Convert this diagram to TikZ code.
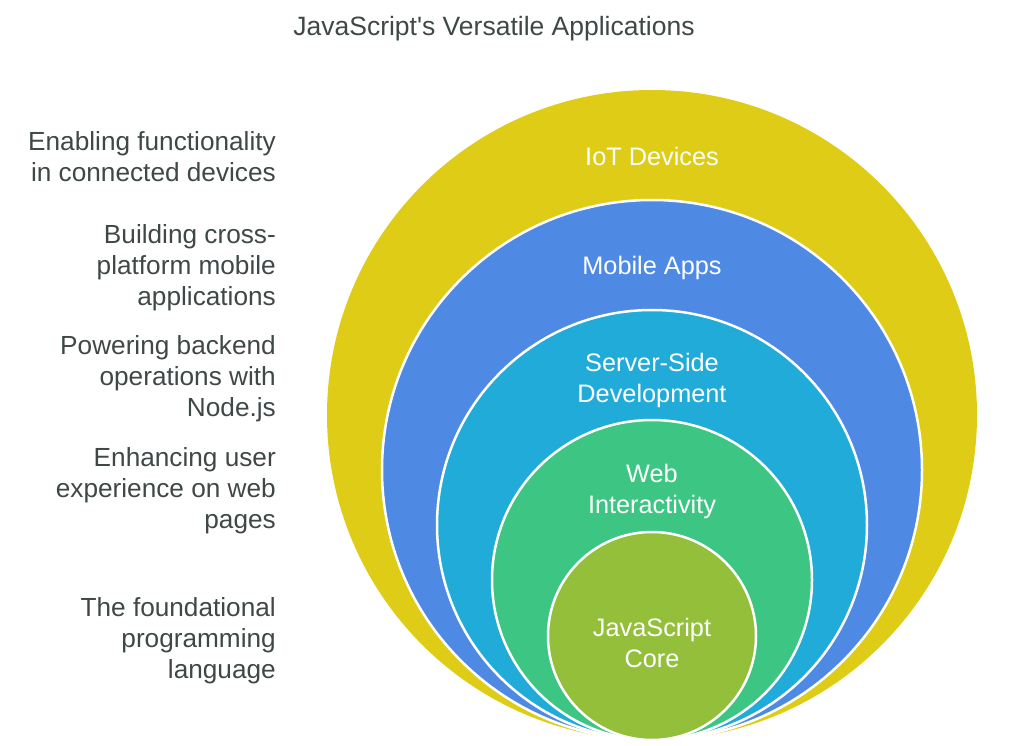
\documentclass[tikz,border=0pt]{standalone}
\usepackage{fontspec}
\setmainfont{Liberation Sans}
\definecolor{cyel}{HTML}{DFCC17}
\definecolor{cblue}{HTML}{4E89E4}
\definecolor{ccyan}{HTML}{21ABD9}
\definecolor{cgreen}{HTML}{3DC583}
\definecolor{colive}{HTML}{93BF3B}
\definecolor{ctext}{HTML}{3F4747}
\tikzset{
  ring/.style={draw=white, line width=2.5pt},
  inlabel/.style={text=white, align=center, font=\fontsize{25.3}{31}\selectfont, inner sep=0pt},
  sidelabel/.style={text=ctext, align=right, anchor=east, font=\fontsize{26.2}{31}\selectfont, inner sep=0pt},
}
\begin{document}
\begin{tikzpicture}[x=1pt,y=-1pt]
\useasboundingbox (0,0) rectangle (1013,746);
\fill[cyel] (652,415) circle (325);
\filldraw[ring, fill=cblue] (652,470) circle (270);
\filldraw[ring, fill=ccyan] (652,525) circle (215);
\filldraw[ring, fill=cgreen] (652,580) circle (160);
\filldraw[ring, fill=colive] (652,636) circle (104);
\node[text=ctext, font=\fontsize{26.5}{31}\selectfont, inner sep=0pt] (title) at (494,29) {JavaScript\textquotesingle s Versatile Applications};
\node[inlabel] (iot) at (652,156) {IoT Devices};
\node[inlabel] (mob) at (652,268) {Mobile Apps};
\node[inlabel] (srv) at (652,380) {Server-Side\\Development};
\node[inlabel] (web) at (652,491) {Web\\Interactivity};
\node[inlabel] (core) at (652,643) {JavaScript\\Core};
\node[sidelabel] (d1) at (276,157) {Enabling functionality\\in connected devices};
\node[sidelabel] (d2) at (276,268) {Building cross-\\platform mobile\\applications};
\node[sidelabel] (d3) at (276,379) {Powering backend\\operations with\\Node.js};
\node[sidelabel] (d4) at (276,491) {Enhancing user\\experience on web\\pages};
\node[sidelabel] (d5) at (276,641) {The foundational\\programming\\language};
\end{tikzpicture}
\end{document}
